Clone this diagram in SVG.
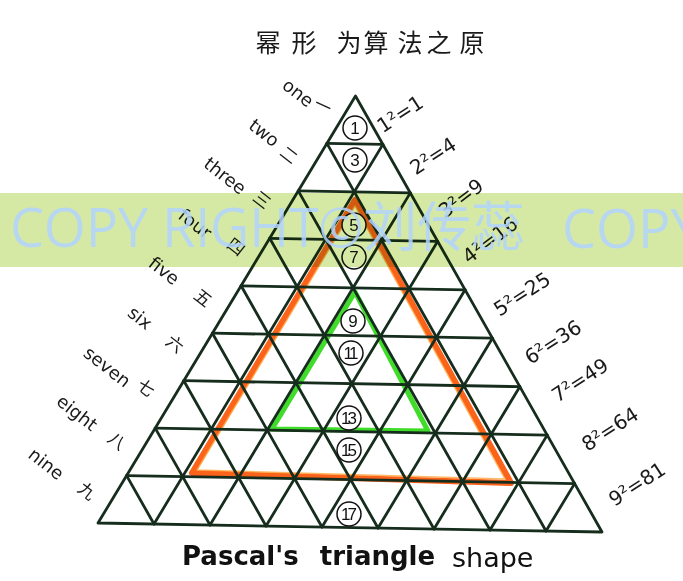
<svg xmlns="http://www.w3.org/2000/svg" width="683" height="581" viewBox="0 0 683 581">
<style>
.grid{fill:none;stroke:#162d1d;stroke-width:2.8;stroke-linecap:round;stroke-linejoin:round}
.circ{fill:#fff;stroke:#111;stroke-width:1.5}
.num{font-family:"Liberation Sans",Arial,sans-serif;font-size:17px;fill:#111;text-anchor:middle}
.lab{font-family:"DejaVu Sans","Liberation Sans",sans-serif;font-size:18px;fill:#1a1a1a;text-anchor:middle}
.zh{font-family:"Noto Sans CJK SC","DejaVu Sans",sans-serif;font-size:17px;fill:#1a1a1a;text-anchor:middle}
.sq{font-family:"DejaVu Sans","Liberation Sans",sans-serif;font-size:20px;fill:#1a1a1a;text-anchor:middle}
.wm{font-family:"Open Sans","Noto Sans CJK SC",sans-serif;font-size:54px;fill:#b2d4ff;opacity:0.85}
</style>
<rect width="683" height="581" fill="#fff"/>

<g id="title">
<text x="268 286 304 326 349 376 410 439 472" y="52" font-family="Noto Sans CJK SC, sans-serif" font-size="25" fill="#1a1a1a" text-anchor="middle">幂 形 为算法之原</text>
</g>

<g id="orange-triangle">
<polygon points="355,200 192,473 511,483" fill="none" stroke="#fb621a" stroke-width="6" stroke-linejoin="round"/>
<polygon points="355,206 197,470 505,479" fill="none" stroke="#ffa640" stroke-width="1.5" stroke-linejoin="round" opacity="0.8"/>
</g>
<g id="green-triangle">
<polygon points="355,292 272,429 428,431" fill="none" stroke="#3fdc2a" stroke-width="5" stroke-linejoin="round"/>
</g>

<g id="connectors" class="grid">
<path d="M355.5 96 L98 523 L602 532 Z"/>
<path d="M326.9 143.4 L382.9 144.4 M298.3 190.9 L410.3 192.9 M269.7 238.3 L437.7 241.3 M241.1 285.8 L465.1 289.8 M212.4 333.2 L492.4 338.2 M183.8 380.7 L519.8 386.7 M155.2 428.1 L547.2 435.1 M126.6 475.6 L574.6 483.6"/>
<path d="M382.9 144.4 L154 524 M410.3 192.9 L210 525 M437.7 241.3 L266 526 M465.1 289.8 L322 527 M492.4 338.2 L378 528 M519.8 386.7 L434 529 M547.2 435.1 L490 530 M574.6 483.6 L546 531"/>
<path d="M326.9 143.4 L546 531 M298.3 190.9 L490 530 M269.7 238.3 L434 529 M241.1 285.8 L378 528 M212.4 333.2 L322 527 M183.8 380.7 L266 526 M155.2 428.1 L210 525 M126.6 475.6 L154 524"/>
</g>

<g id="n1"><circle class="circ" cx="355" cy="128" r="12"/><text class="num" x="355" y="134">1</text></g>
<g id="n3"><circle class="circ" cx="355" cy="160" r="12"/><text class="num" x="355" y="166">3</text></g>
<g id="n5"><circle class="circ" cx="354" cy="225" r="12"/><text class="num" x="354" y="231">5</text></g>
<g id="n7"><circle class="circ" cx="354" cy="257" r="12"/><text class="num" x="354" y="263">7</text></g>
<g id="n9"><circle class="circ" cx="353" cy="321" r="12"/><text class="num" x="353" y="327">9</text></g>
<g id="n11"><circle class="circ" cx="351" cy="353" r="12"/><text class="num" x="351" y="359" textLength="15">11</text></g>
<g id="n13"><circle class="circ" cx="349" cy="418" r="12"/><text class="num" x="349" y="424" textLength="16">13</text></g>
<g id="n15"><circle class="circ" cx="349" cy="450" r="12"/><text class="num" x="349" y="456" textLength="16">15</text></g>
<g id="n17"><circle class="circ" cx="349" cy="514" r="12"/><text class="num" x="349" y="520" textLength="16">17</text></g>

<g id="left-labels">
<text class="lab" transform="translate(298,93) rotate(38)" dy="6">one</text>
<text class="zh" transform="translate(323,106) rotate(25)" dy="6">一</text>
<text class="lab" transform="translate(264,133) rotate(38)" dy="6">two</text>
<text class="zh" transform="translate(289,155) rotate(38)" dy="6">二</text>
<text class="lab" transform="translate(225,176) rotate(38)" dy="6">three</text>
<text class="zh" transform="translate(262,200) rotate(38)" dy="6">三</text>
<text class="lab" transform="translate(195,224) rotate(38)" dy="6">four</text>
<text class="zh" transform="translate(236,247) rotate(38)" dy="6">四</text>
<text class="lab" transform="translate(164,271) rotate(38)" dy="6">five</text>
<text class="zh" transform="translate(203,298) rotate(38)" dy="6">五</text>
<text class="lab" transform="translate(140,318) rotate(38)" dy="6">six</text>
<text class="zh" transform="translate(175,344) rotate(38)" dy="6">六</text>
<text class="lab" transform="translate(107,367) rotate(38)" dy="6">seven</text>
<text class="zh" transform="translate(146,388) rotate(38)" dy="6">七</text>
<text class="lab" transform="translate(77,413) rotate(38)" dy="6">eight</text>
<text class="zh" transform="translate(117,441) rotate(38)" dy="6">八</text>
<text class="lab" transform="translate(46,464) rotate(38)" dy="6">nine</text>
<text class="zh" transform="translate(87,491) rotate(38)" dy="6">九</text>
</g>

<g id="right-labels">
<text class="sq" transform="translate(400,114) rotate(-33)" dy="7">1²=1</text>
<text class="sq" transform="translate(433,156) rotate(-33)" dy="7">2²=4</text>
<text class="sq" transform="translate(461,198) rotate(-37)" dy="7">3²=9</text>
<text class="sq" transform="translate(490,240) rotate(-37)" dy="7">4²=16</text>
<text class="sq" transform="translate(522,294) rotate(-33)" dy="7">5²=25</text>
<text class="sq" transform="translate(553,342) rotate(-33)" dy="7">6²=36</text>
<text class="sq" transform="translate(580,380) rotate(-33)" dy="7">7²=49</text>
<text class="sq" transform="translate(610,429) rotate(-33)" dy="7">8²=64</text>
<text class="sq" transform="translate(637,484) rotate(-33)" dy="7">9²=81</text>
</g>

<g id="caption">
<text x="182" y="565" font-family="DejaVu Sans, sans-serif" font-weight="bold" font-size="26" fill="#111" style="word-spacing:12px">Pascal's triangle</text>
<text x="452" y="567" font-family="DejaVu Sans, sans-serif" font-size="27" fill="#111">shape</text>
</g>

<g id="watermark">
<rect x="0" y="193" width="683" height="74" fill="#d6e9a4" style="mix-blend-mode:multiply"/>
<text class="wm" x="10" y="247" textLength="515" lengthAdjust="spacing">COPY RIGHT©刘传蕊</text>
<text class="wm" x="562" y="248">COPY</text>
</g>
</svg>
